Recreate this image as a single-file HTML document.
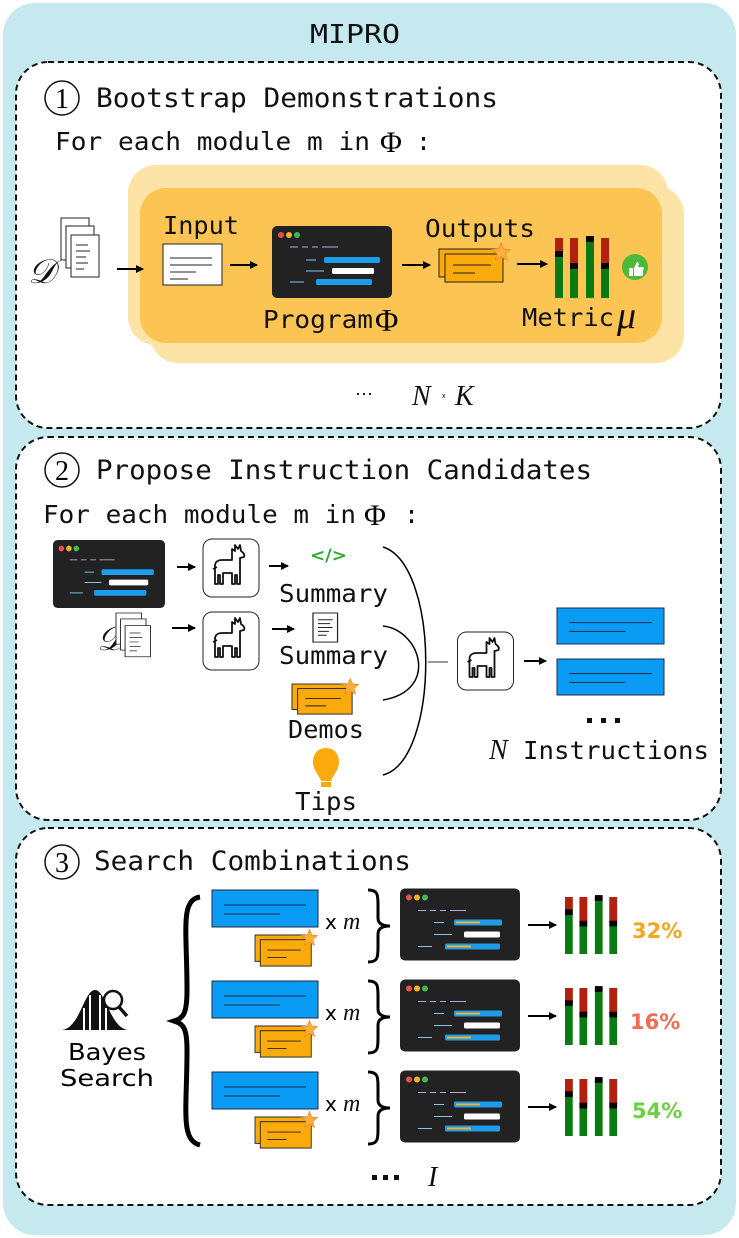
<!DOCTYPE html>
<html><head><meta charset="utf-8"><style>
body{margin:0;background:#fff}
svg{display:block}
.m{font-family:"DejaVu Sans Mono","Liberation Mono",monospace;fill:#111}
.s{font-family:"Liberation Serif",serif;font-style:italic;fill:#111}
</style></head><body>
<svg width="739" height="1238" viewBox="0 0 739 1238" xmlns="http://www.w3.org/2000/svg">
<defs>
<marker id="ah" markerWidth="8" markerHeight="8" refX="7" refY="4" orient="auto" markerUnits="userSpaceOnUse"><path d="M0,0 L8,4 L0,8 z" fill="#000"/></marker>
<symbol id="win" viewBox="0 0 120 72" overflow="visible" preserveAspectRatio="none">
<rect x="0" y="0" width="120" height="72" rx="5" fill="#222"/>
<circle cx="9" cy="9" r="3" fill="#e5534b"/><circle cx="17" cy="9" r="3" fill="#f0b429"/><circle cx="25" cy="9" r="3" fill="#3fb950"/>
<path d="M18 21h8M30 21h6M40 21h6M50 21h16" stroke="#c6a0d8" stroke-width="1"/>
<path d="M34 34h10" stroke="#7fc8e8" stroke-width="1"/><rect x="52" y="31" width="56" height="6" rx="1.5" fill="#1e9be9"/>
<path d="M34 45h18" stroke="#7fc8e8" stroke-width="1"/><rect x="60" y="42" width="42" height="6" rx="1.5" fill="#fff"/>
<path d="M18 56h14" stroke="#7fc8e8" stroke-width="1"/><rect x="44" y="53" width="56" height="6" rx="1.5" fill="#1e9be9"/>
</symbol>
<symbol id="win2" viewBox="0 0 120 72" overflow="visible">
<rect x="0" y="0" width="120" height="72" rx="5" fill="#222"/>
<circle cx="9" cy="9" r="3" fill="#e5534b"/><circle cx="17" cy="9" r="3" fill="#f0b429"/><circle cx="25" cy="9" r="3" fill="#3fb950"/>
<path d="M18 22h8M30 22h6M40 22h6M50 22h16" stroke="#c6a0d8" stroke-width="1"/>
<path d="M34 34h10" stroke="#7fc8e8" stroke-width="1"/><rect x="54" y="31" width="48" height="6" rx="1.5" fill="#1e9be9"/><rect x="56" y="33" width="24" height="2" fill="#f0b429"/>
<path d="M34 46h18" stroke="#7fc8e8" stroke-width="1"/><rect x="64" y="43" width="36" height="6" rx="1.5" fill="#fff"/>
<path d="M18 58h14" stroke="#7fc8e8" stroke-width="1"/><rect x="45" y="55" width="55" height="6" rx="1.5" fill="#1e9be9"/><rect x="47" y="57" width="24" height="2" fill="#f0b429"/>
</symbol>
<symbol id="cards" viewBox="0 0 66 34" overflow="visible" preserveAspectRatio="none">
<rect x="0" y="0" width="58" height="28" fill="#fbaa0b" stroke="#222" stroke-width="1"/>
<rect x="6" y="5" width="58" height="28" fill="#fbaa0b" stroke="#222" stroke-width="1"/>
<path d="M14 16h38M14 24h22" stroke="#222" stroke-width="1"/>
<path d="M62,-6 l2.5,6 6.5,.5 -5,4.2 1.6,6.3 -5.6,-3.4 -5.6,3.4 1.6,-6.3 -5,-4.2 6.5,-.5z" fill="#fbb03b" stroke="#f08a24" stroke-width="0.8"/>
</symbol>
<symbol id="bars" viewBox="0 0 56 60" overflow="visible" preserveAspectRatio="none">
<rect x="0" y="0" width="8" height="60" fill="#0c7a12"/><rect x="0" y="0" width="8" height="15" fill="#b22010"/><rect x="0" y="13" width="8" height="6" fill="#000"/>
<rect x="15" y="0" width="8" height="60" fill="#0c7a12"/><rect x="15" y="0" width="8" height="27" fill="#b22010"/><rect x="15" y="25" width="8" height="6" fill="#000"/>
<rect x="31" y="0" width="8" height="60" fill="#0c7a12"/><rect x="31" y="-2" width="8" height="6" fill="#000"/>
<rect x="46" y="0" width="8" height="60" fill="#0c7a12"/><rect x="46" y="0" width="8" height="27" fill="#b22010"/><rect x="46" y="25" width="8" height="6" fill="#000"/>
</symbol>
<symbol id="llama" viewBox="0 0 56 58" overflow="visible">
<rect x="0" y="0" width="56" height="58" rx="9" fill="#fff" stroke="#222" stroke-width="1"/>
<g fill="none" stroke="#111" stroke-width="1.8" stroke-linejoin="round">
<path d="M32 12 l0-6 3 4 2-4 1 6 c3 2 4 4 3 6 l-4 1 0 8 0 18 -3 0 0-9 -2 0 0 9 -3 0 0-11 -9 0 0 11 -3 0 0-9 -2 0 0 9 -3 0 0-18 c0-4 3-6 7-6 l10 0 0-11z"/>
<path d="M14 28 l-4 2"/>
</g>
</symbol>
<symbol id="doc" viewBox="0 0 22 32" overflow="visible" preserveAspectRatio="none">
<rect x="0" y="0" width="20" height="30" fill="#fff" stroke="#222" stroke-width="1"/>
<path d="M4 7h12M4 11h10M4 15h12M4 19h9M4 23h7" stroke="#222" stroke-width="1"/>
</symbol>
<symbol id="docs" viewBox="0 0 44 62" overflow="visible" preserveAspectRatio="none">
<rect x="0" y="0" width="28" height="42" fill="#fff" stroke="#222" stroke-width="1"/>
<rect x="5" y="8" width="28" height="42" fill="#fff" stroke="#222" stroke-width="1"/>
<rect x="10" y="17" width="28" height="42" fill="#fff" stroke="#222" stroke-width="1"/>
<path d="M15 27h12M15 33h14M15 39h10M15 45h12M15 51h8" stroke="#222" stroke-width="1"/>
</symbol>
<symbol id="blue" viewBox="0 0 106 37" overflow="visible" preserveAspectRatio="none">
<rect x="0" y="0" width="106" height="37" fill="#0a9cf5" stroke="#1a2a4a" stroke-width="1"/>
<path d="M12 15h82M12 24h56" stroke="#1a2a4a" stroke-width="1"/>
</symbol>
</defs>

<rect x="3" y="3" width="733" height="1232" rx="32" fill="#c6e9ef"/>
<text x="310" y="43" class="m" font-size="26" textLength="90" lengthAdjust="spacingAndGlyphs">MIPRO</text>

<!-- Panel 1 -->
<rect x="16" y="62" width="705" height="366" rx="32" fill="#fff" stroke="#111" stroke-width="2" stroke-dasharray="6,4"/>
<circle cx="62" cy="98" r="17" fill="none" stroke="#111" stroke-width="1.5"/>
<text x="62" y="108" font-family="Liberation Serif,serif" font-size="28" text-anchor="middle">1</text>
<text x="96" y="107" class="m" font-size="27" textLength="402" lengthAdjust="spacingAndGlyphs">Bootstrap Demonstrations</text>
<text x="55" y="150" class="m" font-size="25" textLength="315" lengthAdjust="spacingAndGlyphs">For each module m in</text>
<text x="380" y="152" font-family="Liberation Serif,serif" font-size="30">Φ</text>
<text x="416" y="150" class="m" font-size="25">:</text>

<rect x="128" y="165" width="540" height="180" rx="28" fill="#fde3a6"/>
<rect x="150" y="186" width="534" height="177" rx="28" fill="#fde3a6"/>
<rect x="140" y="188" width="522" height="155" rx="26" fill="#fcc553"/>

<text x="28" y="283" class="s" font-size="34">𝒟</text>
<use href="#docs" x="61" y="218" width="44" height="62"/>
<line x1="117" y1="269" x2="143" y2="269" stroke="#000" stroke-width="2" marker-end="url(#ah)"/>
<text x="163" y="234" class="m" font-size="25" textLength="76" lengthAdjust="spacingAndGlyphs">Input</text>
<rect x="163" y="244" width="59" height="41" fill="#fff" stroke="#222" stroke-width="1"/>
<path d="M170 258h42M170 265h42M170 272h26M170 279h18" stroke="#222" stroke-width="1"/>
<line x1="230" y1="265" x2="257" y2="265" stroke="#000" stroke-width="2" marker-end="url(#ah)"/>
<use href="#win" x="272" y="226" width="120" height="72"/>
<text x="263" y="328" class="m" font-size="25" textLength="110" lengthAdjust="spacingAndGlyphs">Program</text>
<text x="375" y="331" font-family="Liberation Serif,serif" font-size="32">Φ</text>
<line x1="402" y1="265" x2="430" y2="265" stroke="#000" stroke-width="2" marker-end="url(#ah)"/>
<text x="425" y="237" class="m" font-size="25" textLength="110" lengthAdjust="spacingAndGlyphs">Outputs</text>
<use href="#cards" x="439" y="249" width="66" height="34"/>
<line x1="517" y1="264" x2="547" y2="264" stroke="#000" stroke-width="2" marker-end="url(#ah)"/>
<use href="#bars" x="555" y="238" width="56" height="60"/>
<circle cx="635" cy="267" r="13" fill="#4cb93a"/>
<path d="M629 268h4v8h-4z M634 268l3-6c2 0 2 2 1 5h5c1 0 1 3 0 3v5c0 1-1 1-2 1h-7z" fill="#fff"/>
<text x="522" y="326" class="m" font-size="25" textLength="92" lengthAdjust="spacingAndGlyphs">Metric</text>
<text x="617" y="328" class="s" font-size="38">μ</text>
<text x="355" y="400" font-family="Liberation Serif,serif" font-size="18">···</text>
<text x="412" y="405" class="s" font-size="28">N</text>
<text x="442" y="398" font-family="Liberation Sans,sans-serif" font-size="7">x</text>
<text x="455" y="405" class="s" font-size="28">K</text>

<!-- Panel 2 -->
<rect x="16" y="437" width="705" height="383" rx="32" fill="#fff" stroke="#111" stroke-width="2" stroke-dasharray="6,4"/>
<circle cx="62" cy="470" r="17" fill="none" stroke="#111" stroke-width="1.5"/>
<text x="62" y="480" font-family="Liberation Serif,serif" font-size="28" text-anchor="middle">2</text>
<text x="96" y="479" class="m" font-size="27" textLength="496" lengthAdjust="spacingAndGlyphs">Propose Instruction Candidates</text>
<text x="43" y="523" class="m" font-size="25" textLength="313" lengthAdjust="spacingAndGlyphs">For each module m in</text>
<text x="364" y="525" font-family="Liberation Serif,serif" font-size="30">Φ</text>
<text x="404" y="523" class="m" font-size="25">:</text>

<use href="#win" x="53" y="540" width="112" height="68"/>
<line x1="177" y1="567" x2="195" y2="567" stroke="#000" stroke-width="2" marker-end="url(#ah)"/>
<use href="#llama" x="203" y="539" width="56" height="58"/>
<line x1="269" y1="566" x2="288" y2="566" stroke="#000" stroke-width="2" marker-end="url(#ah)"/>
<text x="310" y="561" font-family="DejaVu Sans,sans-serif" font-weight="bold" font-size="17" fill="#2faa2f" textLength="37" lengthAdjust="spacingAndGlyphs">&lt;/&gt;</text>
<text x="279" y="602" class="m" font-size="25" textLength="109" lengthAdjust="spacingAndGlyphs">Summary</text>

<text x="97" y="650" class="s" font-size="34">𝒟</text>
<use href="#docs" x="116" y="613" width="40" height="46"/>
<line x1="172" y1="628" x2="195" y2="628" stroke="#000" stroke-width="2" marker-end="url(#ah)"/>
<use href="#llama" x="203" y="612" width="56" height="58"/>
<line x1="272" y1="629" x2="294" y2="629" stroke="#000" stroke-width="2" marker-end="url(#ah)"/>
<use href="#doc" x="313" y="613" width="27" height="31"/>
<text x="279" y="664" class="m" font-size="25" textLength="109" lengthAdjust="spacingAndGlyphs">Summary</text>
<use href="#cards" x="292" y="684" width="62" height="31"/>
<text x="288" y="738" class="m" font-size="25" textLength="76" lengthAdjust="spacingAndGlyphs">Demos</text>
<path d="M326 748c-9 0-13 7-13 14 0 8 6 13 8 19h10c2-6 8-11 8-19 0-7-4-14-13-14z M321 782h10v5h-10z" fill="#fbaa0b"/>
<text x="295" y="810" class="m" font-size="25" textLength="62" lengthAdjust="spacingAndGlyphs">Tips</text>

<path d="M383 547 C440 565 440 760 383 775" fill="none" stroke="#000" stroke-width="1.5"/>
<path d="M383 626 C420 630 440 690 383 700" fill="none" stroke="#000" stroke-width="1.5"/>
<line x1="428" y1="662" x2="448" y2="662" stroke="#333" stroke-width="1"/>
<use href="#llama" x="457" y="632" width="57" height="58"/>
<line x1="524" y1="661" x2="546" y2="661" stroke="#000" stroke-width="2" marker-end="url(#ah)"/>
<use href="#blue" x="557" y="608" width="107" height="36"/>
<use href="#blue" x="557" y="659" width="107" height="36"/>
<path d="M587 718h5v5h-5zM601 718h5v5h-5zM615 718h5v5h-5z" fill="#111"/>
<text x="489" y="759" class="s" font-size="28">N</text>
<text x="523" y="759" class="m" font-size="25" textLength="186" lengthAdjust="spacingAndGlyphs">Instructions</text>

<!-- Panel 3 -->
<rect x="16" y="828" width="705" height="377" rx="32" fill="#fff" stroke="#111" stroke-width="2" stroke-dasharray="6,4"/>
<circle cx="62" cy="862" r="17" fill="none" stroke="#111" stroke-width="1.5"/>
<text x="62" y="872" font-family="Liberation Serif,serif" font-size="28" text-anchor="middle">3</text>
<text x="94" y="870" class="m" font-size="27" textLength="317" lengthAdjust="spacingAndGlyphs">Search Combinations</text>

<path d="M62 1030 C80 1028 84 990 95 990 C106 990 110 1028 128 1030 Z" fill="#111"/>
<path d="M84 1030V1008M90 1030V995M100 1030V995M106 1030V1008" stroke="#fff" stroke-width="2"/>
<circle cx="113" cy="1000" r="9" fill="#fff" stroke="#111" stroke-width="2.5"/>
<line x1="119" y1="1007" x2="127" y2="1016" stroke="#111" stroke-width="3.5"/>
<text x="68" y="1060" font-family="DejaVu Sans,sans-serif" font-size="23" textLength="78" lengthAdjust="spacingAndGlyphs">Bayes</text>
<text x="60" y="1086" font-family="DejaVu Sans,sans-serif" font-size="23" textLength="94" lengthAdjust="spacingAndGlyphs">Search</text>

<path d="M200 897 C180 900 187 930 187 990 C187 1015 183 1018 174 1021 C183 1024 187 1027 187 1050 C187 1110 180 1140 200 1145" fill="none" stroke="#000" stroke-width="5"/>

<g id="r1">
<use href="#blue" x="212" y="890" width="106" height="37"/>
<use href="#cards" x="255" y="935" width="58" height="32"/>
<text x="325" y="929" font-family="DejaVu Sans,sans-serif" font-size="20">x</text>
<text x="343" y="929" class="s" font-size="24">m</text>
<path d="M368 890 c10 0 10 5 10 15 v13 c0 6 5 8 12 8 c-7 0-12 2-12 8 v13 c0 10 0 15-10 15" fill="none" stroke="#000" stroke-width="3"/>
<use href="#win2" x="400" y="888" width="120" height="73"/>
<line x1="528" y1="925" x2="556" y2="925" stroke="#000" stroke-width="2" marker-end="url(#ah)"/>
<use href="#bars" x="565" y="897" width="54" height="57"/>
</g>
<text x="632" y="938" font-family="DejaVu Sans,sans-serif" font-weight="bold" font-size="21" fill="#f7a51c">32%</text>
<use href="#r1" x="0" y="91"/>
<text x="630" y="1029" font-family="DejaVu Sans,sans-serif" font-weight="bold" font-size="21" fill="#f26b55">16%</text>
<use href="#r1" x="0" y="182"/>
<text x="632" y="1118" font-family="DejaVu Sans,sans-serif" font-weight="bold" font-size="21" fill="#6cd13f">54%</text>

<path d="M372 1175h5v5h-5zM383 1175h5v5h-5zM394 1175h5v5h-5z" fill="#111"/>
<text x="428" y="1186" class="s" font-size="28">I</text>
</svg>
</body></html>
